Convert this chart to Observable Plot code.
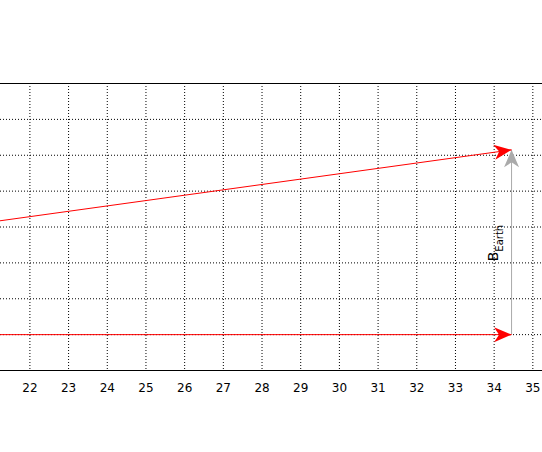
<!DOCTYPE html>
<html><head><meta charset="utf-8">
<script src="https://cdn.jsdelivr.net/npm/d3@7"></script>
<script src="https://cdn.jsdelivr.net/npm/@observablehq/plot@0.6"></script>
<style>html,body{margin:0;padding:0;background:#fff;overflow:hidden;} svg{display:block;}</style>
</head><body><div id="chart"></div>
<script>
const xTicks = [22, 23, 24, 25, 26, 27, 28, 29, 30, 31, 32, 33, 34, 35];
const yGridLines = [1, 2, 3, 4, 5, 6, 7];
const yFrame = [0, 8];
const xDomain = [21.24, 35.25];
const yDomain = [0, 8];

// red vectors (start -> end)
const redX1 = [0, 0];
const redY1 = [1, 1];
const redX2 = [34.45, 34.45];
const redY2 = [1, 6.15];

// Earth field vector (gray)
const earthX1 = [34.45];
const earthY1 = [1];
const earthX2 = [34.45];
const earthY2 = [6.15];
const labelMain = "B";
const labelSub = "Earth";

const redColor = "#ff0000";
const grayColor = "#aaaaaa";

const redData = redX1.map((x, i) => ({x1: x, y1: redY1[i], x2: redX2[i], y2: redY2[i]}));
const earthData = earthX1.map((x, i) => ({x1: x, y1: earthY1[i], x2: earthX2[i], y2: earthY2[i]}));
const labelData = earthData.map(d => ({x: d.x1, y: (d.y1 + d.y2) / 2}));

const font = "DejaVu Sans, Liberation Sans, sans-serif";

const plot = Plot.plot({
  width: 542,
  height: 452,
  marginTop: 83,
  marginBottom: 82,
  marginLeft: 0,
  marginRight: 0,
  style: {fontFamily: font, fontSize: "12px", background: "#fff", color: "#000"},
  x: {domain: xDomain, ticks: xTicks, label: null},
  y: {domain: yDomain, axis: null},
  marks: [
    Plot.ruleX(xTicks, {stroke: "#000", strokeWidth: 1, strokeDasharray: "1,2"}),
    Plot.ruleY(yGridLines, {stroke: "#000", strokeWidth: 1, strokeDasharray: "1,2"}),
    Plot.ruleY(yFrame, {stroke: "#000", strokeWidth: 1}),
    Plot.axisX({ticks: xTicks, tickSize: 0, tickPadding: 13, fontSize: 12, tickFormat: d => String(d), label: null}),
    Plot.link(earthData, {x1: "x1", y1: "y1", x2: "x2", y2: "y2", stroke: grayColor, strokeWidth: 1}),
    Plot.link(redData, {x1: "x1", y1: "y1", x2: "x2", y2: "y2", stroke: redColor, strokeWidth: 1}),
    Plot.text(labelData, {x: "x", y: "y", text: () => labelMain, rotate: -90, textAnchor: "start", dx: -18, dy: 19, fontSize: 14, fill: "#000"}),
    Plot.text(labelData, {x: "x", y: "y", text: () => labelSub, rotate: -90, textAnchor: "start", dx: -12, dy: 9.4, fontSize: 10, fill: "#000"})
  ]
});

// arrowhead markers (stealth style)
const ns = "http://www.w3.org/2000/svg";
const defs = document.createElementNS(ns, "defs");
function makeMarker(id, color) {
  const m = document.createElementNS(ns, "marker");
  m.setAttribute("id", id);
  m.setAttribute("viewBox", "-19 -9 21 18");
  m.setAttribute("refX", "0");
  m.setAttribute("refY", "0");
  m.setAttribute("markerWidth", "21");
  m.setAttribute("markerHeight", "18");
  m.setAttribute("markerUnits", "userSpaceOnUse");
  m.setAttribute("orient", "auto");
  m.setAttribute("overflow", "visible");
  const p = document.createElementNS(ns, "path");
  p.setAttribute("d", "M0,0 L-17.5,-7.5 L-12.5,0 L-17.5,7.5 Z");
  p.setAttribute("fill", color);
  p.setAttribute("stroke", "none");
  m.appendChild(p);
  defs.appendChild(m);
}
makeMarker("head-red", redColor);
makeMarker("head-gray", grayColor);
plot.insertBefore(defs, plot.firstChild);
plot.querySelectorAll('g[aria-label="link"]').forEach(g => {
  const s = (g.getAttribute("stroke") || "").toLowerCase();
  const id = s === redColor ? "head-red" : s === grayColor ? "head-gray" : null;
  if (id) g.querySelectorAll("path").forEach(p => p.setAttribute("marker-end", `url(#${id})`));
});

document.getElementById("chart").appendChild(plot);
</script>
</body></html>
